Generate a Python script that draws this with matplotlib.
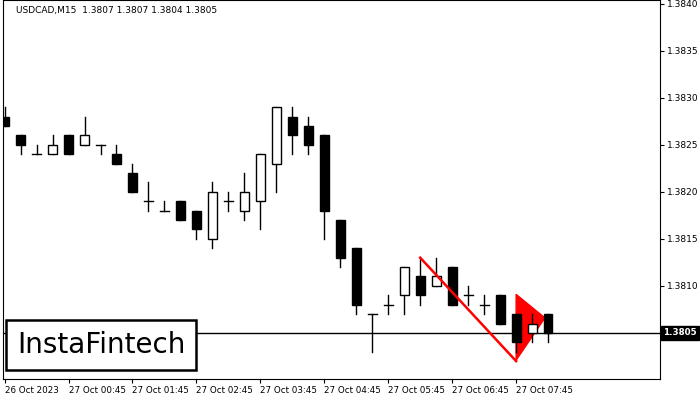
import matplotlib
matplotlib.use("Agg")
import matplotlib.pyplot as plt
from matplotlib.patches import Rectangle, Polygon

opens  = [1.3828,1.3826,1.3824,1.3824,1.3826,1.3825,1.3825,1.3824,1.3822,1.3819,1.3818,1.3819,1.3818,1.3815,1.3819,1.3818,1.3819,1.3823,1.3828,1.3827,1.3826,1.3817,1.3814,1.3807,1.3808,1.3809,1.3811,1.3810,1.3812,1.3809,1.3808,1.3809,1.3807,1.3805,1.3807]
highs  = [1.3829,1.3826,1.3825,1.3826,1.3826,1.3828,1.3825,1.3825,1.3823,1.3821,1.3819,1.3819,1.3818,1.3821,1.3820,1.3822,1.3824,1.3829,1.3829,1.3828,1.3826,1.3817,1.3814,1.3807,1.3809,1.3812,1.3813,1.3813,1.3812,1.3810,1.3809,1.3809,1.3807,1.3807,1.3807]
lows   = [1.3827,1.3824,1.3824,1.3824,1.3824,1.3825,1.3824,1.3823,1.3820,1.3818,1.3818,1.3817,1.3815,1.3814,1.3818,1.3817,1.3816,1.3820,1.3824,1.3824,1.3815,1.3812,1.3807,1.3803,1.3807,1.3807,1.3808,1.3810,1.3808,1.3808,1.3807,1.3806,1.3803,1.3804,1.3804]
closes = [1.3827,1.3825,1.3824,1.3825,1.3824,1.3826,1.3825,1.3823,1.3820,1.3819,1.3818,1.3817,1.3816,1.3820,1.3819,1.3820,1.3824,1.3829,1.3826,1.3825,1.3818,1.3813,1.3808,1.3807,1.3808,1.3812,1.3809,1.3811,1.3808,1.3809,1.3808,1.3806,1.3804,1.3806,1.3805]
x_labels = ["26 Oct 2023","27 Oct 00:45","27 Oct 01:45","27 Oct 02:45","27 Oct 03:45","27 Oct 04:45","27 Oct 05:45","27 Oct 06:45","27 Oct 07:45"]
x_label_idx = [0,4,8,12,16,20,24,28,32]
y_ticks = [1.3810,1.3815,1.3820,1.3825,1.3830,1.3835,1.3840]
current = 1.3805
line_pts = [(26,1.3813),(32,1.3802)]
flag_pts = [(32,1.38091),(32,1.38021),(33.8,1.38066)]

fig = plt.figure(figsize=(7,4), dpi=100)
ax = fig.add_axes([3/700, 21/400, 657/700, 379/400])
ax.set_xlim(-0.1, 41)
ax.set_ylim(1.38001, 1.38404)
w = 0.55
for i,(o,h,l,c) in enumerate(zip(opens,highs,lows,closes)):
    ax.plot([i,i],[l,h],color='black',lw=1,zorder=2)
    lo, hi = min(o,c), max(o,c)
    if hi-lo < 1e-6:
        ax.plot([i-w/2,i+w/2],[o,o],color='black',lw=1,zorder=3)
    else:
        ax.add_patch(Rectangle((i-w/2,lo),w,hi-lo,facecolor='black' if c<o else 'white',edgecolor='black',lw=1,zorder=3))
ax.axhline(current,color='black',lw=1,zorder=1)
ax.plot([p[0] for p in line_pts],[p[1] for p in line_pts],color='#ff0000',lw=1.8,zorder=4)
ax.add_patch(Polygon(flag_pts,closed=True,facecolor='#ff0000',edgecolor='#ff0000',zorder=1.5))
ax.yaxis.tick_right()
ax.set_yticks(y_ticks)
ax.set_yticklabels([f"{v:.4f}" for v in y_ticks],fontsize=6.5)
ax.set_xticks(x_label_idx)
ax.set_xticklabels(x_labels,fontsize=6.3,ha='left')
ax.tick_params(length=3,width=0.8,pad=2)
for s in ax.spines.values(): s.set_linewidth(0.8)
ax.annotate("1.3805",xy=(1,current),xycoords=('axes fraction','data'),xytext=(2,0),textcoords='offset points',
            fontsize=6.3,color='white',va='center',ha='left',fontweight='bold',
            bbox=dict(boxstyle='square,pad=0.25',fc='black',ec='black'),annotation_clip=False)
ax.text(0.02,0.985,"USDCAD,M15  1.3807 1.3807 1.3804 1.3805",transform=ax.transAxes,fontsize=6.5,va='top')
fig.text(101/700,1-345/400,"InstaFintech",fontsize=20,ha='center',va='center',
         bbox=dict(boxstyle='square,pad=0.4',fc='white',ec='black',lw=1.8))
fig.savefig("out.png")
